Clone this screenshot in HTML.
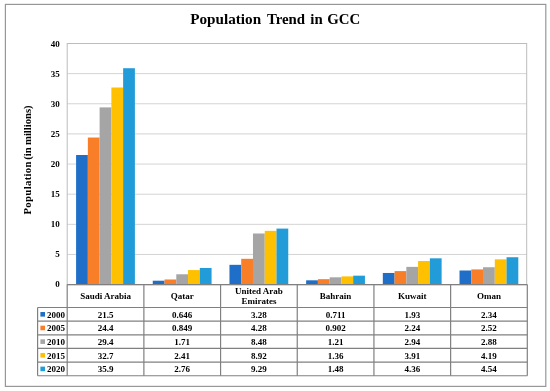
<!DOCTYPE html>
<html><head><meta charset="utf-8"><title>Population Trend in GCC</title>
<style>html,body{margin:0;padding:0;background:#fff}body{width:550px;height:391px;overflow:hidden}</style></head>
<body>
<svg width="550" height="391" viewBox="0 0 550 391" style="display:block;font-family:'Liberation Serif',serif;font-weight:bold">
<rect width="550" height="391" fill="#fff"/>
<rect x="5.4" y="4.4" width="540.4" height="382" fill="#fff" stroke="#979797" stroke-width="1.2"/>
<line x1="67.2" x2="526.70" y1="284.60" y2="284.60" stroke="#d4d4d4" stroke-width="1"/>
<line x1="67.2" x2="526.70" y1="254.46" y2="254.46" stroke="#d4d4d4" stroke-width="1"/>
<line x1="67.2" x2="526.70" y1="224.33" y2="224.33" stroke="#d4d4d4" stroke-width="1"/>
<line x1="67.2" x2="526.70" y1="194.19" y2="194.19" stroke="#d4d4d4" stroke-width="1"/>
<line x1="67.2" x2="526.70" y1="164.05" y2="164.05" stroke="#d4d4d4" stroke-width="1"/>
<line x1="67.2" x2="526.70" y1="133.91" y2="133.91" stroke="#d4d4d4" stroke-width="1"/>
<line x1="67.2" x2="526.70" y1="103.78" y2="103.78" stroke="#d4d4d4" stroke-width="1"/>
<line x1="67.2" x2="526.70" y1="73.64" y2="73.64" stroke="#d4d4d4" stroke-width="1"/>
<line x1="67.2" x2="526.70" y1="43.50" y2="43.50" stroke="#d4d4d4" stroke-width="1"/>
<rect x="67.2" y="43.5" width="459.50" height="241.10" fill="none" stroke="#bcbcbc" stroke-width="1"/>
<rect x="76.09" y="155.01" width="11.76" height="129.59" fill="#1f6ec7"/>
<rect x="87.85" y="137.53" width="11.76" height="147.07" fill="#f97e28"/>
<rect x="99.61" y="107.39" width="11.76" height="177.21" fill="#a5a5a5"/>
<rect x="111.37" y="87.50" width="11.76" height="197.10" fill="#ffc000"/>
<rect x="123.13" y="68.21" width="11.76" height="216.39" fill="#219cd9"/>
<rect x="152.77" y="280.71" width="11.76" height="3.89" fill="#1f6ec7"/>
<rect x="164.53" y="279.48" width="11.76" height="5.12" fill="#f97e28"/>
<rect x="176.29" y="274.29" width="11.76" height="10.31" fill="#a5a5a5"/>
<rect x="188.05" y="270.07" width="11.76" height="14.53" fill="#ffc000"/>
<rect x="199.81" y="267.96" width="11.76" height="16.64" fill="#219cd9"/>
<rect x="229.46" y="264.83" width="11.76" height="19.77" fill="#1f6ec7"/>
<rect x="241.22" y="258.80" width="11.76" height="25.80" fill="#f97e28"/>
<rect x="252.98" y="233.49" width="11.76" height="51.11" fill="#a5a5a5"/>
<rect x="264.74" y="230.83" width="11.76" height="53.77" fill="#ffc000"/>
<rect x="276.50" y="228.60" width="11.76" height="56.00" fill="#219cd9"/>
<rect x="306.14" y="280.31" width="11.76" height="4.29" fill="#1f6ec7"/>
<rect x="317.90" y="279.16" width="11.76" height="5.44" fill="#f97e28"/>
<rect x="329.66" y="277.31" width="11.76" height="7.29" fill="#a5a5a5"/>
<rect x="341.42" y="276.40" width="11.76" height="8.20" fill="#ffc000"/>
<rect x="353.18" y="275.68" width="11.76" height="8.92" fill="#219cd9"/>
<rect x="382.82" y="272.97" width="11.76" height="11.63" fill="#1f6ec7"/>
<rect x="394.58" y="271.10" width="11.76" height="13.50" fill="#f97e28"/>
<rect x="406.34" y="266.88" width="11.76" height="17.72" fill="#a5a5a5"/>
<rect x="418.10" y="261.03" width="11.76" height="23.57" fill="#ffc000"/>
<rect x="429.86" y="258.32" width="11.76" height="26.28" fill="#219cd9"/>
<rect x="459.51" y="270.50" width="11.76" height="14.10" fill="#1f6ec7"/>
<rect x="471.27" y="269.41" width="11.76" height="15.19" fill="#f97e28"/>
<rect x="483.03" y="267.24" width="11.76" height="17.36" fill="#a5a5a5"/>
<rect x="494.79" y="259.34" width="11.76" height="25.26" fill="#ffc000"/>
<rect x="506.55" y="257.24" width="11.76" height="27.36" fill="#219cd9"/>
<text x="59.8" y="287.10" font-size="9" text-anchor="end" fill="#000">0</text>
<text x="59.8" y="257.08" font-size="9" text-anchor="end" fill="#000">5</text>
<text x="59.8" y="227.05" font-size="9" text-anchor="end" fill="#000">10</text>
<text x="59.8" y="197.03" font-size="9" text-anchor="end" fill="#000">15</text>
<text x="59.8" y="167.00" font-size="9" text-anchor="end" fill="#000">20</text>
<text x="59.8" y="136.97" font-size="9" text-anchor="end" fill="#000">25</text>
<text x="59.8" y="106.95" font-size="9" text-anchor="end" fill="#000">30</text>
<text x="59.8" y="76.92" font-size="9" text-anchor="end" fill="#000">35</text>
<text x="59.8" y="46.90" font-size="9" text-anchor="end" fill="#000">40</text>
<g stroke="#808080" stroke-width="1.2" fill="none">
<line x1="67.2" x2="527.3" y1="284.6" y2="284.6"/>
<line x1="37.6" x2="527.3" y1="307.50" y2="307.50"/>
<line x1="37.6" x2="527.3" y1="321.15" y2="321.15"/>
<line x1="37.6" x2="527.3" y1="334.80" y2="334.80"/>
<line x1="37.6" x2="527.3" y1="348.45" y2="348.45"/>
<line x1="37.6" x2="527.3" y1="362.10" y2="362.10"/>
<line x1="37.6" x2="527.3" y1="375.75" y2="375.75"/>
<line x1="67.20" x2="67.20" y1="284.6" y2="375.75"/>
<line x1="143.88" x2="143.88" y1="284.6" y2="375.75"/>
<line x1="220.57" x2="220.57" y1="284.6" y2="375.75"/>
<line x1="297.25" x2="297.25" y1="284.6" y2="375.75"/>
<line x1="373.93" x2="373.93" y1="284.6" y2="375.75"/>
<line x1="450.62" x2="450.62" y1="284.6" y2="375.75"/>
<line x1="527.30" x2="527.30" y1="284.6" y2="375.75"/>
<line x1="37.6" x2="37.6" y1="307.5" y2="375.75"/>
</g>
<text x="105.54" y="299.05" font-size="9" text-anchor="middle">Saudi Arabia</text>
<text x="182.22" y="299.05" font-size="9" text-anchor="middle">Qatar</text>
<text x="258.91" y="293.85" font-size="9" text-anchor="middle">United Arab</text>
<text x="258.91" y="304.25" font-size="9" text-anchor="middle">Emirates</text>
<text x="335.59" y="299.05" font-size="9" text-anchor="middle">Bahrain</text>
<text x="412.27" y="299.05" font-size="9" text-anchor="middle">Kuwait</text>
<text x="488.96" y="299.05" font-size="9" text-anchor="middle">Oman</text>
<rect x="40.4" y="312.02" width="4.6" height="4.6" fill="#1f6ec7"/>
<text x="47" y="317.72" font-size="9">2000</text>
<text x="105.54" y="317.72" font-size="9" text-anchor="middle">21.5</text>
<text x="182.22" y="317.72" font-size="9" text-anchor="middle">0.646</text>
<text x="258.91" y="317.72" font-size="9" text-anchor="middle">3.28</text>
<text x="335.59" y="317.72" font-size="9" text-anchor="middle">0.711</text>
<text x="412.27" y="317.72" font-size="9" text-anchor="middle">1.93</text>
<text x="488.96" y="317.72" font-size="9" text-anchor="middle">2.34</text>
<rect x="40.4" y="325.68" width="4.6" height="4.6" fill="#f97e28"/>
<text x="47" y="331.38" font-size="9">2005</text>
<text x="105.54" y="331.38" font-size="9" text-anchor="middle">24.4</text>
<text x="182.22" y="331.38" font-size="9" text-anchor="middle">0.849</text>
<text x="258.91" y="331.38" font-size="9" text-anchor="middle">4.28</text>
<text x="335.59" y="331.38" font-size="9" text-anchor="middle">0.902</text>
<text x="412.27" y="331.38" font-size="9" text-anchor="middle">2.24</text>
<text x="488.96" y="331.38" font-size="9" text-anchor="middle">2.52</text>
<rect x="40.4" y="339.32" width="4.6" height="4.6" fill="#a5a5a5"/>
<text x="47" y="345.02" font-size="9">2010</text>
<text x="105.54" y="345.02" font-size="9" text-anchor="middle">29.4</text>
<text x="182.22" y="345.02" font-size="9" text-anchor="middle">1.71</text>
<text x="258.91" y="345.02" font-size="9" text-anchor="middle">8.48</text>
<text x="335.59" y="345.02" font-size="9" text-anchor="middle">1.21</text>
<text x="412.27" y="345.02" font-size="9" text-anchor="middle">2.94</text>
<text x="488.96" y="345.02" font-size="9" text-anchor="middle">2.88</text>
<rect x="40.4" y="352.97" width="4.6" height="4.6" fill="#ffc000"/>
<text x="47" y="358.67" font-size="9">2015</text>
<text x="105.54" y="358.67" font-size="9" text-anchor="middle">32.7</text>
<text x="182.22" y="358.67" font-size="9" text-anchor="middle">2.41</text>
<text x="258.91" y="358.67" font-size="9" text-anchor="middle">8.92</text>
<text x="335.59" y="358.67" font-size="9" text-anchor="middle">1.36</text>
<text x="412.27" y="358.67" font-size="9" text-anchor="middle">3.91</text>
<text x="488.96" y="358.67" font-size="9" text-anchor="middle">4.19</text>
<rect x="40.4" y="366.62" width="4.6" height="4.6" fill="#219cd9"/>
<text x="47" y="372.32" font-size="9">2020</text>
<text x="105.54" y="372.32" font-size="9" text-anchor="middle">35.9</text>
<text x="182.22" y="372.32" font-size="9" text-anchor="middle">2.76</text>
<text x="258.91" y="372.32" font-size="9" text-anchor="middle">9.29</text>
<text x="335.59" y="372.32" font-size="9" text-anchor="middle">1.48</text>
<text x="412.27" y="372.32" font-size="9" text-anchor="middle">4.36</text>
<text x="488.96" y="372.32" font-size="9" text-anchor="middle">4.54</text>
<text y="23.8" font-size="14.85"><tspan x="190.2" font-size="15.2">Population </tspan><tspan x="266.9">Trend </tspan><tspan x="310.3">in </tspan><tspan x="327.3">GCC</tspan></text>
<text transform="translate(30.5,0) rotate(-90)" font-size="10.67"><tspan x="-214.5" letter-spacing="0.36">Population </tspan><tspan x="-159.7">(in </tspan><tspan x="-145">millions)</tspan></text>
</svg>
</body></html>
